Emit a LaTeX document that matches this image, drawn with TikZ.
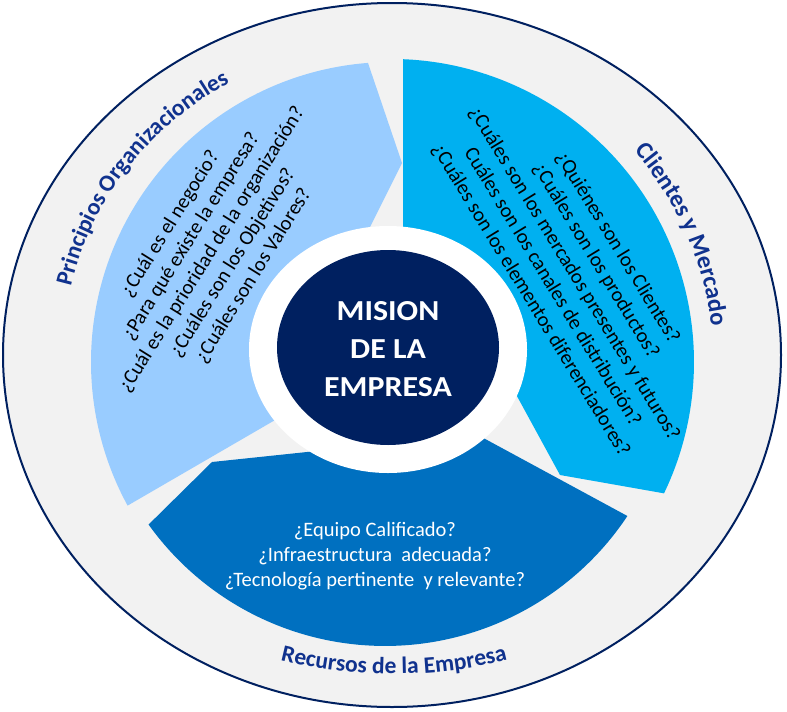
\documentclass[tikz,border=0pt]{standalone}
\usepackage{fontspec}
\setmainfont{Carlito}
\usepackage{graphicx}
\usetikzlibrary{decorations.text}
\definecolor{ringgray}{HTML}{F2F2F2}
\definecolor{navy}{HTML}{002060}
\definecolor{lbc}{HTML}{99CCFF}
\definecolor{cyc}{HTML}{00B0F0}
\definecolor{dbc}{HTML}{0070C0}
\definecolor{ttlc}{RGB}{16,50,142}
\newcommand{\ttlfontA}{\fontsize{23.5}{24}\selectfont\bfseries}
\newcommand{\ttlfontB}{\fontsize{24.5}{25}\selectfont\bfseries}
\newcommand{\ttlfontC}{\fontsize{23.5}{24}\selectfont\bfseries}
\begin{document}
\begin{tikzpicture}[x=1pt,y=1pt,
  qtext/.style={inner sep=0pt, align=center},
  ttlpath/.style={decorate, decoration={text along path, text align=center, text color=ttlc, text={#1}}}]
\fill[white] (0,0) rectangle (787,-712);
\useasboundingbox (0,0) rectangle (787,-712);
% outer ring
\draw[navy, line width=2pt, fill=ringgray] (392,-355) ellipse[x radius=389, y radius=352];
% light blue segment (Principios)
\fill[lbc] (127.6,-505.6) arc[start angle=208.6, end angle=94.4, radius=300]
  -- (402,-163) -- (370,-227) -- (358,-251) -- (301,-405) -- cycle;
% cyan segment (Clientes)
\fill[cyc] (403,-59.2) arc[start angle=87.73, end angle=-25.7, radius=303]
  -- (560,-475) -- (518,-398) -- (501,-367) -- (403,-260) -- cycle;
% dark blue segment (Recursos)
\fill[dbc] (627.4,-516) arc[start angle=-33.6, end angle=-144.35, radius=291]
  -- (212,-462) -- (307,-452) -- (335,-449) -- (452,-421) -- cycle;
% centre
\fill[white] (388,-349.5) ellipse[x radius=139, y radius=123.5];
\fill[navy] (388,-347.5) ellipse[x radius=111, y radius=97.5];
\node[text=white, inner sep=0pt] (mision) at (388,-350.4)
  {\fontsize{29}{38}\selectfont\bfseries\scalebox{1.1}[1]{\begin{tabular}{@{}c@{}}MISION\\DE LA\\EMPRESA\end{tabular}}};
% questions
\node[qtext, rotate=58, font=\fontsize{20.5}{24.5}\selectfont] (lbq) at (212,-250)
  {¿Cuál es el negocio?\\¿Para qué existe la empresa?\\¿Cuál es la prioridad de la organización?\\¿Cuáles son los Objetivos?\\¿Cuáles son los Valores?};
\node[qtext, rotate=-58.6, font=\fontsize{20.5}{25.4}\selectfont] (cyq) at (574,-274)
  {¿Quiénes son los Clientes?\\¿Cuáles son los productos?\\¿Cuáles son los mercados presentes y futuros?\\Cuáles son los canales de distribución?\\¿Cuáles son los elementos diferenciadores?};
\node[qtext, text=white, font=\fontsize{20.5}{25.3}\selectfont] (dbq) at (375,-556)
  {¿Equipo Calificado?\\¿Infraestructura\ \ adecuada?\\¿Tecnología pertinente\ \ y relevante?};
% titles
\path[ttlpath={|\ttlfontA|Principios Organizacionales}]
  (82.8,-462.1) arc[start angle=200, end angle=88.3, x radius=329, y radius=313];
\path[ttlpath={|\ttlfontB|Clientes y Mercado}]
  (419.1,-41.2) arc[start angle=85, end angle=-37.7, radius=322];
\path[ttlpath={|\ttlfontC|Recursos de la Empresa}]
  (194.9,-629.9) arc[start angle=245, end angle=295, radius=471];
\end{tikzpicture}
\end{document}
